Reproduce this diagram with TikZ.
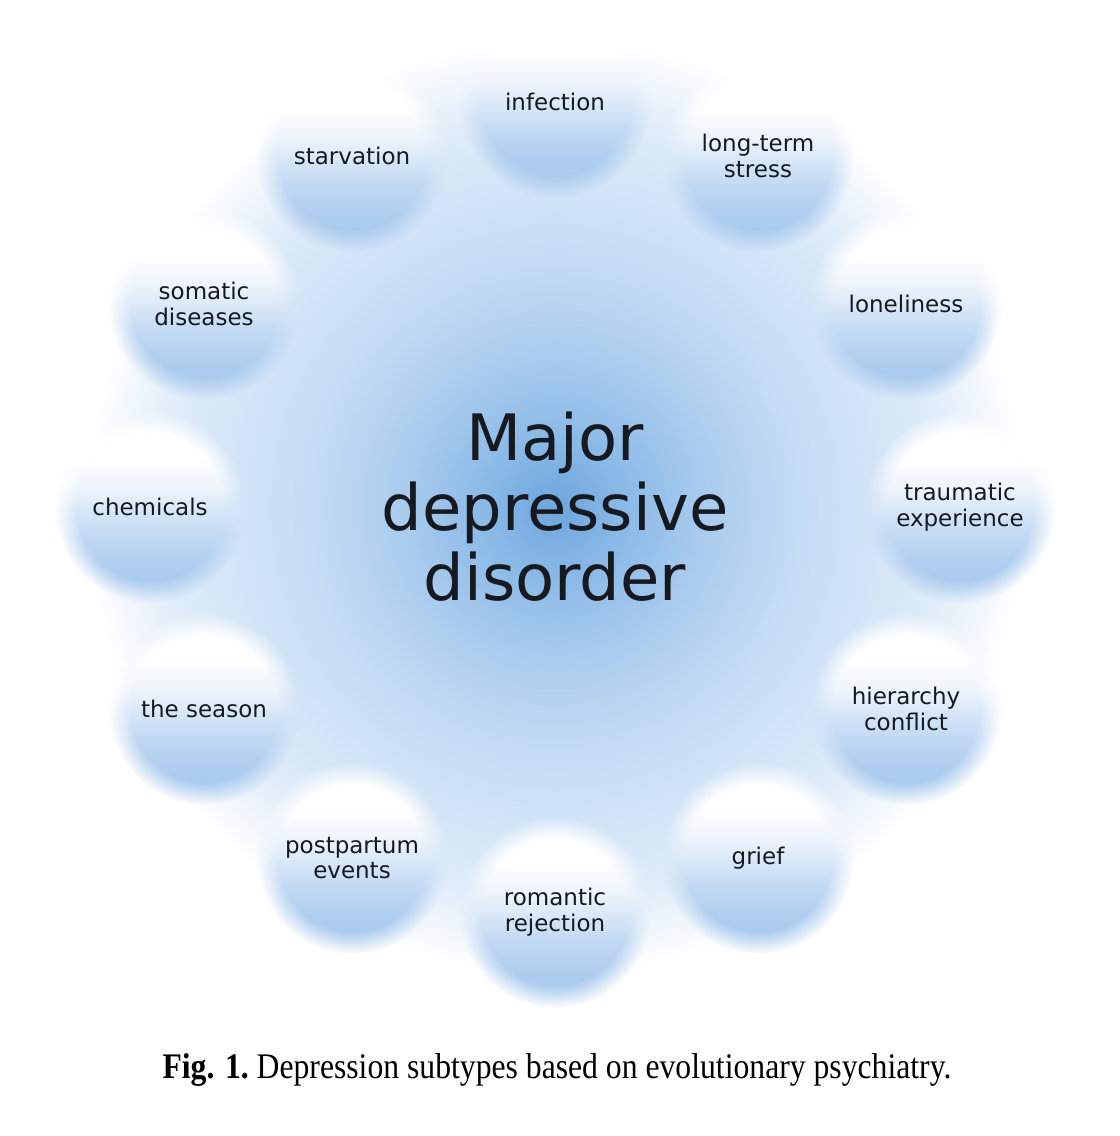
\documentclass[tikz,border=0pt]{standalone}
\usepackage{fontspec}
\setmainfont{DejaVu Sans}
\newfontfamily\capfont[FakeStretch=0.88]{Liberation Serif}
\usepackage{tikz}
\usetikzlibrary{shapes.geometric}
\usetikzlibrary{fadings}

\definecolor{glowA}{HTML}{6EA5DD}
\definecolor{glowB}{HTML}{86B7E6}
\definecolor{glowC}{HTML}{A9CBEE}
\definecolor{glowD}{HTML}{C3DBF4}
\definecolor{glowE}{HTML}{D2E4F7}
\definecolor{glowF}{HTML}{DFECF9}
\definecolor{ballA}{HTML}{A8CAEE}
\definecolor{ballB}{HTML}{AECDEF}
\definecolor{ballC}{HTML}{C0D8F3}
\definecolor{ballD}{HTML}{DBE9F8}
\definecolor{ballE}{HTML}{EEF4FC}
\definecolor{inktext}{HTML}{161A20}

\pgfdeclareradialshading{mddglow}{\pgfpointorigin}{color(0bp)=(glowA); color(3bp)=(glowB); color(7.5bp)=(glowC); color(12bp)=(glowD); color(16bp)=(glowE); color(19.5bp)=(glowF); color(23.5bp)=(white); color(50bp)=(white)}
\pgfdeclareverticalshading{bubbleshade}{100bp}{color(0bp)=(ballA); color(29bp)=(ballA); color(34.5bp)=(ballB); color(42bp)=(ballC); color(50bp)=(ballD); color(55bp)=(ballE); color(63bp)=(white); color(100bp)=(white)}
\pgfdeclareradialshading{bubbleedge}{\pgfpointorigin}{color(0bp)=(white); color(19bp)=(white); color(25bp)=(black); color(50bp)=(black)}
\pgfdeclarefading{bubblefade}{\pgfuseshading{bubbleedge}}

\tikzset{
  bubble/.style={circle, minimum size=144pt, shade, shading=bubbleshade,
    path fading=bubblefade, align=center, text=inktext,
    font=\fontsize{17.25}{19}\selectfont},
  bigtext/.style={align=center, text=inktext,
    font=\fontsize{48}{52.5}\selectfont},
}

\begin{document}
\begin{tikzpicture}[x=0.75pt,y=0.75pt]
        \useasboundingbox (0,0) rectangle (1120,1136);
        \fill[white] (0,0) rectangle (1120,1136);
        \coordinate (centre) at (555,629);
        \shade[shading=mddglow] (centre) circle (500);

        \node[bubble] (infection) at (555,1034) {infection};
        \node[bubble] (stress) at (758,980) {long-term\\stress};
        \node[bubble] (loneliness) at (906,832) {loneliness};
        \node[bubble] (trauma) at (960,629) {traumatic\\experience};
        \node[bubble] (hierarchy) at (906,427) {hierarchy\\conflict};
        \node[bubble] (grief) at (758,278) {grief};
        \node[bubble] (romantic) at (555,224) {romantic\\rejection};
        \node[bubble] (postpartum) at (352,278) {postpartum\\events};
        \node[bubble] (season) at (204,427) {the season};
        \node[bubble] (chemicals) at (150,629) {chemicals};
        \node[bubble] (somatic) at (204,832) {somatic\\diseases};
        \node[bubble] (starvation) at (352,980) {starvation};

        \node[bigtext] (mdd) at (centre) {Major\\depressive\\disorder};

        \node[font=\capfont\fontsize{27}{30}\selectfont] (caption) at (557,66)
         {\textbf{Fig. 1.}\ Depression subtypes based on evolutionary psychiatry.};
    \end{tikzpicture}
\end{document}
